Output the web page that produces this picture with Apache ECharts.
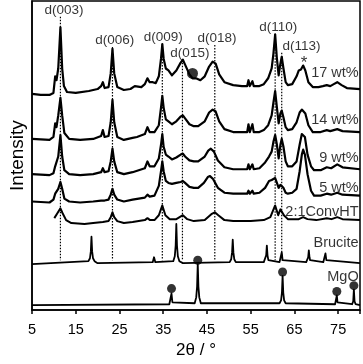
<!DOCTYPE html>
<html><head><meta charset="utf-8">
<script src="https://cdn.jsdelivr.net/npm/echarts@6/dist/echarts.min.js"></script>
<style>html,body{margin:0;padding:0;background:#fff}#c{width:363px;height:364px}</style>
</head><body><div id="c"></div>
<script>
// ---- data: [2θ (deg), intensity (a.u., stacked with offsets)] ----
const wt17 = [[5,221],[7,220],[9,220],[9.9,222],[10.3,239],[10.6,235],[11.0,247],[11.5,289],[11.9,247],[12.3,229],[13,223],[15,222],[18,224],[20,226],[20.8,229],[21.2,233],[21.6,227],[22.5,228],[23.0,242],[23.4,267],[23.8,242],[24.5,228],[26,225],[27.5,226],[28.5,229],[30,228],[30.8,231],[31.4,237],[31.9,233],[32.6,233],[33.3,232],[34.0,239],[34.5,257],[34.8,272],[35.1,257],[35.6,247],[36.2,245],[37.0,240],[38.0,245],[39.0,253],[39.5,256],[40.0,251],[41.0,241],[41.7,237],[42.5,237],[43.5,235],[44.5,239],[45.5,249],[46.3,254],[47.0,252],[47.8,241],[49.0,233],[51,230],[53,229],[54.2,229],[54.5,235],[54.8,229],[55.1,229],[55.4,234],[55.7,229],[57,229],[58,231],[59.0,237],[59.8,247],[60.2,262],[60.6,282],[61.0,257],[61.4,240],[61.8,252],[62.1,259],[62.5,247],[63.0,233],[63.5,230],[64.5,231],[65.5,239],[66.0,245],[66.5,246],[67.0,250],[67.5,245],[68.2,233],[69.2,228],[70.5,228],[71.5,229],[72.4,230],[73.2,229],[74.0,231],[74.8,233],[75.8,230],[77,227],[80,226]];
const wt14 = [[5,175],[9,174],[9.9,177],[10.3,191],[10.6,187],[11.0,199],[11.5,217],[11.9,199],[12.4,181],[13.5,175],[16,174],[19,175],[20.8,178],[21.2,184],[21.6,177],[22.5,178],[23.0,192],[23.4,215],[23.8,192],[24.5,177],[26,174],[28,176],[29,177],[30.8,180],[31.4,187],[31.9,182],[33,182],[34.0,189],[34.5,207],[34.8,219],[35.1,207],[35.6,195],[36.2,193],[37.0,190],[38.0,193],[39.0,198],[39.5,199],[40.0,196],[41.0,190],[42.0,188],[43.0,188],[44.5,193],[45.5,202],[46.3,205],[47.0,203],[47.8,193],[49.0,185],[51,182],[54.2,182],[54.5,190],[54.8,182],[55.1,182],[55.4,190],[55.7,182],[57,182],[58,184],[59.0,189],[59.8,199],[60.2,212],[60.6,224],[61.0,207],[61.4,191],[61.8,201],[62.1,204],[62.5,197],[63.0,187],[63.5,184],[64.5,185],[65.5,192],[66.2,202],[66.7,205],[67.0,206],[67.5,201],[68.2,189],[69.2,182],[71,182],[72.4,184],[73.2,183],[74.8,185],[76,183],[80,182]];
const wt9 = [[5,139],[9,138],[9.9,140],[10.3,147],[10.6,145],[11.0,157],[11.5,179],[11.9,157],[12.4,143],[13.5,139],[16,138],[19,139],[20.8,141],[21.2,145],[21.6,141],[22.5,142],[23.0,152],[23.4,165],[23.8,152],[24.5,141],[26,139],[28,141],[30.8,145],[31.4,152],[31.9,147],[33,147],[34.0,155],[34.5,169],[34.8,180],[35.1,167],[35.6,159],[36.2,157],[37.0,154],[38.0,156],[39.0,159],[39.5,160],[40.0,157],[41.0,153],[42.0,152],[43.0,152],[44.5,157],[45.3,163],[45.9,165],[46.6,162],[47.5,153],[49.0,146],[51,144],[54.2,144],[54.5,149],[54.8,144],[55.1,144],[55.4,149],[55.7,144],[57,145],[58.3,151],[59.2,157],[59.8,162],[60.2,172],[60.6,179],[61.0,169],[61.4,155],[61.8,169],[62.1,175],[62.5,167],[63.0,152],[63.5,147],[64.5,147],[65.5,152],[66.2,169],[66.7,180],[67.0,182],[67.4,177],[68.0,159],[68.8,147],[69.5,143],[71,143],[72.4,146],[73.4,145],[74.8,149],[76,146],[80,144]];
const wt5 = [[5,111],[9,110],[9.9,113],[10.3,119],[10.6,117],[11.0,124],[11.5,131],[11.9,124],[12.4,114],[13.5,111],[16,110],[19,111],[20.8,112],[21.2,114],[21.6,112],[22.5,113],[23.0,118],[23.4,124],[23.8,118],[24.5,113],[26,111],[28,113],[30.8,115],[31.4,118],[31.9,116],[33,117],[34.0,127],[34.5,142],[34.8,152],[35.1,142],[35.6,132],[36.2,130],[37.0,129],[38.0,130],[39.0,131],[39.5,132],[40.0,130],[41.0,126],[42.0,125],[43.0,125],[44.3,130],[45.2,136],[45.7,137],[46.4,134],[47.5,125],[49.0,120],[51,119],[54.2,119],[54.5,122],[54.8,119],[55.1,119],[55.4,122],[55.7,119],[57,120],[58.3,125],[59.2,132],[59.8,133],[60.2,131],[60.6,135],[61.0,130],[61.4,125],[61.8,128],[62.1,129],[62.5,125],[63.0,120],[63.5,119],[64.5,120],[65.5,124],[66.2,142],[66.7,159],[67.0,164],[67.4,159],[68.0,139],[68.8,122],[69.5,117],[71,117],[72.4,119],[73.4,118],[74.8,120],[76,118],[80,117]];
const convHT = [[10.1,94],[10.8,99],[11.5,104],[12.0,99],[12.8,92],[14,89],[17,88],[19,89],[21.2,90],[22.5,91],[23.0,95],[23.4,100],[23.8,95],[24.5,91],[26,89],[28,90],[30.8,92],[31.4,94],[32,92],[33,92],[34.0,97],[34.8,107],[35.5,97],[36.5,93],[38.0,93],[39.5,97],[40.5,93],[42,91],[44.5,92],[46.0,98],[46.8,100],[47.6,97],[49,92],[51,91],[55,91],[58,92],[59.5,95],[60.6,107],[61.3,97],[61.8,103],[62.1,105],[62.6,97],[63.5,93],[66,93],[67,95],[68,93],[70,92],[72.4,94],[73.5,93],[74.8,95],[76,93],[80,92]];
const brucite = [[5,47],[17.9,50],[18.25,53],[18.45,60],[18.6,75],[18.75,60],[18.95,53],[19.3,50],[20,48],[32.6,49],[32.9,54],[33.2,49],[37.3,50],[37.65,55],[37.85,66],[38.0,88],[38.15,66],[38.35,55],[38.7,50],[39.5,48],[50.2,49],[50.55,52],[50.75,59],[50.9,72],[51.05,59],[51.25,52],[51.6,49],[58.0,49],[58.35,51],[58.55,56],[58.7,66],[58.85,56],[59.05,51],[59.4,49],[61.6,49],[61.9,51],[62.1,59],[62.3,51],[62.6,49],[67.7,49],[68.0,51],[68.15,54],[68.3,61],[68.45,54],[68.6,51],[68.9,49],[71.6,49],[71.9,51],[72.1,58],[72.3,51],[72.6,49],[80,48]];
const mgo = [[5,5],[36.4,6],[36.7,8],[36.9,17],[37.1,8],[37.4,6],[42.2,7],[42.55,13],[42.75,24],[42.9,47],[43.05,24],[43.25,13],[43.6,7],[61.6,7],[61.95,10],[62.15,18],[62.3,35],[62.45,18],[62.65,10],[63.0,7],[74.3,6],[74.55,8],[74.7,15],[74.85,8],[75.1,6],[78.2,6],[78.45,9],[78.6,21],[78.75,9],[79.0,6],[80,5]];

const mgoDots = [[36.9,22],[42.9,51],[62.3,39],[74.7,19],[78.6,25]];
const ldhDot = [[41.7,242]];
const reflNames = ['d(003)','d(006)','d(009)','d(015)','d(018)','d(110)','d(113)'];
const reflPos   = [11.5, 23.4, 34.8, 39.4, 46.8, 60.6, 62.1];
const reflTop   = [300, 269, 272, 256, 271, 282, 263];
const reflBottom = 51;
const reflLabelAt = [[12.3,307],[23.9,276],[35,279],[41.1,263],[47.3,278],[61.3,289],[66.6,270]];
const starAt = [67.2,252];
const sampleNames = ['17 wt%','14 wt%','9 wt%','5 wt%','2:1ConvHT','Brucite','MgO'];
const sampleLabelAt = [[79.7,242],[79.7,194],[79.7,155],[79.7,125],[79.7,100],[79.7,69],[79.7,34]];

const FONT = '"Liberation Sans", Arial, sans-serif';
const trace = (d, w) => ({type:'line', data:d, symbol:'none', smooth:false, silent:true,
  lineStyle:{color:'#000', width:w, join:'round'}, z:3});

const series = [
  trace(wt17,2.2), trace(wt14,2.2), trace(wt9,2.2), trace(wt5,2.2), trace(convHT,2),
  trace(brucite,1.8), trace(mgo,1.8)
];
reflPos.forEach((p,i) => series.push({type:'line', data:[[p,reflTop[i]],[p,reflBottom]], symbol:'none',
  silent:true, lineStyle:{color:'#000', width:1.2, type:[1.5,1.5]}, z:2}));
series.push({type:'scatter', data:mgoDots, symbol:'circle', symbolSize:9, itemStyle:{color:'#000'}, z:4});
series.push({type:'scatter', data:ldhDot, symbol:'circle', symbolSize:11, itemStyle:{color:'#000'}, z:4});
series.push({type:'scatter', symbolSize:0, z:5,
  data: reflLabelAt.map((c,i)=>({name:reflNames[i], value:c})),
  label:{show:true, position:'inside', formatter:'{b}', color:'#000', fontSize:13.5, fontFamily:FONT}});
series.push({type:'scatter', symbolSize:0, z:5, data:[{name:'*', value:starAt}],
  label:{show:true, position:'inside', formatter:'{b}', color:'#000', fontSize:17, fontFamily:FONT}});
series.push({type:'scatter', symbolSize:0, z:5,
  data: sampleLabelAt.map((c,i)=>({name:sampleNames[i], value:c})),
  label:{show:true, position:'left', distance:0, formatter:'{b}', color:'#000', fontSize:14.5, fontFamily:FONT}});

const chart = echarts.init(document.getElementById('c'));
chart.setOption({
  animation:false,
  grid:{left:24, right:2, top:1, bottom:47, show:true, borderColor:'#000', borderWidth:1.5},
  xAxis:{type:'value', min:5, max:80, interval:10,
    axisLine:{show:true, lineStyle:{color:'#000', width:1.5}},
    axisTick:{show:true, length:4, lineStyle:{color:'#000', width:1.5}},
    axisLabel:{color:'#000', fontSize:14.5, fontFamily:FONT, margin:12, formatter:v => (v===80?'':String(v))},
    splitLine:{show:false},
    name:'2θ / °', nameLocation:'middle', nameGap:29,
    nameTextStyle:{color:'#000', fontSize:17, fontFamily:FONT}},
  yAxis:{type:'value', min:0, max:316,
    axisLine:{show:true, lineStyle:{color:'#000', width:1.5}},
    axisTick:{show:false}, axisLabel:{show:false}, splitLine:{show:false},
    name:'Intensity', nameLocation:'middle', nameGap:5,
    nameTextStyle:{color:'#000', fontSize:19, fontFamily:FONT}},
  series
});
</script></body></html>
